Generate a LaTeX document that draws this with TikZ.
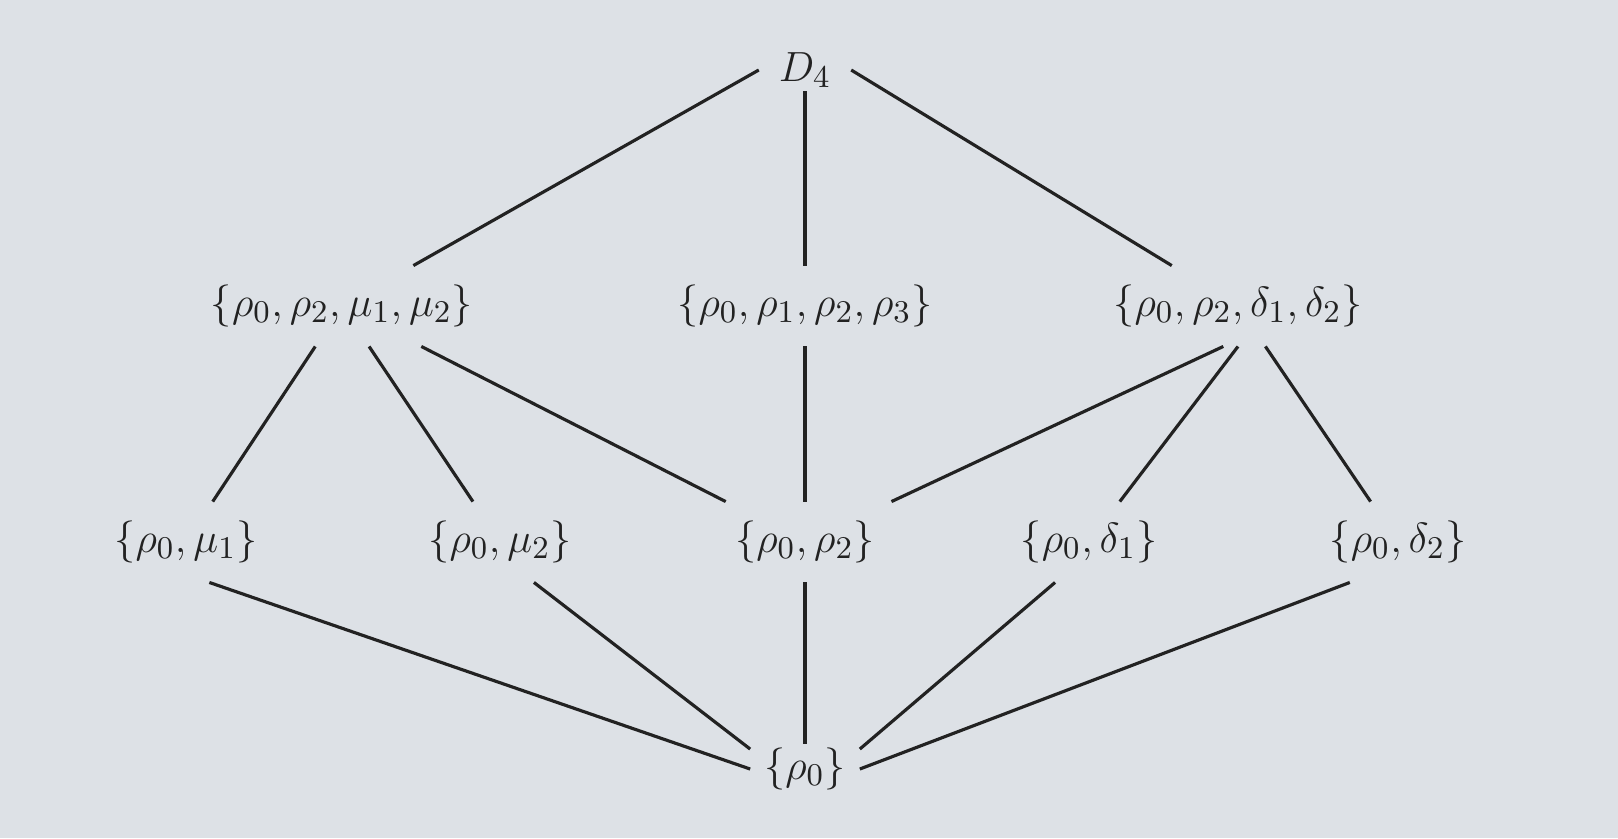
\documentclass[tikz,border=0pt]{standalone}
\usepackage{amsmath,amssymb}
\usepackage{tikz}
\usetikzlibrary{positioning,calc}
\definecolor{paper}{HTML}{DDE1E6}
\definecolor{ink}{HTML}{222222}
\tikzset{
    every picture/.style={line width=0.6pt},
    grp/.style={inner sep=0pt,outer sep=5.5pt,text=ink,font=\fontsize{13}{15}\selectfont},
    endgrp/.style={grp,outer xsep=4pt,outer ysep=1pt},
    link/.style={draw=ink,line width=0.9pt}
}

\begin{document}
\begin{tikzpicture}[x=0.01cm,y=-0.01cm]
        % Background
        \fill[paper] (0,0) rectangle (1618,838);
        \useasboundingbox (0,0) rectangle (1618,838);

        % Top
        \node[endgrp,outer xsep=5.7pt] (dfour) at (805,70) {$D_4$};

        % Order 4
        \node[grp] (vmu) at (342,306) {$\{\rho_0, \rho_2, \mu_1, \mu_2\}$};
        \node[grp] (rot) at (805,306) {$\{\rho_0, \rho_1, \rho_2, \rho_3\}$};
        \node[grp] (vdel) at (1238,306) {$\{\rho_0, \rho_2, \delta_1, \delta_2\}$};

        % Order 2
        \node[grp] (mone) at (186,542) {$\{\rho_0, \mu_1\}$};
        \node[grp] (mtwo) at (500,542) {$\{\rho_0, \mu_2\}$};
        \node[grp] (rtwo) at (805,542) {$\{\rho_0, \rho_2\}$};
        \node[grp] (done) at (1089,542) {$\{\rho_0, \delta_1\}$};
        \node[grp] (dtwo) at (1398,542) {$\{\rho_0, \delta_2\}$};

        % Bottom
        \node[endgrp] (triv) at (805,769) {$\{\rho_0\}$};

        % Lines, top half
        \draw[link] (dfour.west) -- (vmu);
        \draw[link] (dfour.south) -- (rot.north);
        \draw[link] (dfour.east) -- (vdel);
        \foreach \a/\b in {vmu/mone,vmu/mtwo,vmu/rtwo,vdel/dtwo}
            \draw[link] (\a) -- (\b);
        \draw[link] (rot.south) -- (rtwo.north);
        \draw[link] (vdel.-110) -- (rtwo);
        \draw[link] (vdel.south) -- (done);

        % Lines, bottom half
        \draw[link] (mone.-60) -- (triv.west);
        \draw[link] (mtwo.-50) -- (triv.160);
        \draw[link] (rtwo.south) -- (triv.north);
        \draw[link] (done.-130) -- (triv.20);
        \draw[link] (dtwo.-140) -- (triv.east);
\end{tikzpicture}
\end{document}
